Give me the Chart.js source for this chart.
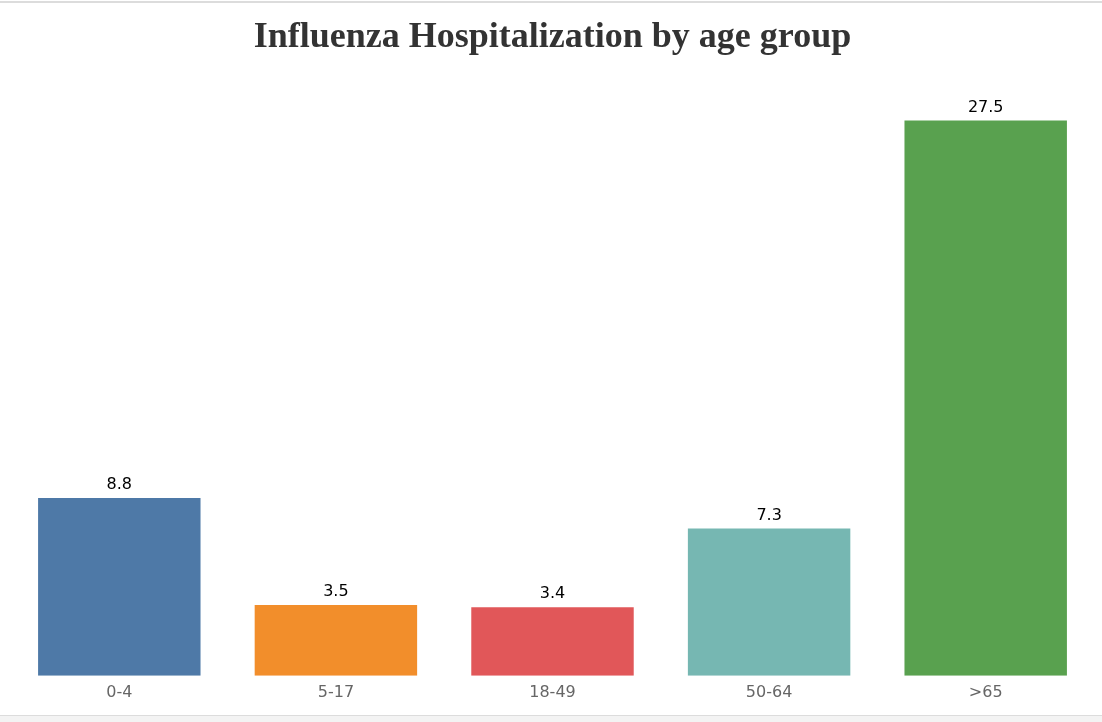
<!DOCTYPE html>
<html>
<head>
<meta charset="utf-8">
<script src="https://cdn.jsdelivr.net/npm/chart.js@4.4.0/dist/chart.umd.min.js"></script>
<style>
  html, body { margin: 0; padding: 0; background: #fff; }
  #wrap { position: relative; width: 1102px; height: 722px; overflow: hidden; }
  #topline { position: absolute; left: 0; top: 1px; width: 1102px; height: 2px; background: #dcdcdc; }
  #bottom { position: absolute; left: 0; top: 715px; width: 1102px; height: 7px; background: #f3f3f3; border-top: 1px solid #dcdcdc; }
  #box { position: absolute; left: 0; top: 0; width: 1102px; height: 715px; }
</style>
</head>
<body>
<div id="wrap">
  <div id="topline"></div>
  <div id="box"><canvas id="chart"></canvas></div>
  <div id="bottom"></div>
</div>
<script>
// Dados do gr치fico
const grupos = ['0-4', '5-17', '18-49', '50-64', '>65'];
const taxas = [8.8, 3.5, 3.4, 7.3, 27.5];
const cores = ['#4e79a7', '#f28e2b', '#e15759', '#76b7b2', '#59a14f'];

// Plugin simples para escrever o valor acima de cada barra
const rotulosValor = {
    id: 'rotulosValor',
    afterDatasetsDraw(chart) {
        const ctx = chart.ctx;
        const meta = chart.getDatasetMeta(0);
        ctx.save();
        ctx.font = '16px "DejaVu Sans", Verdana, sans-serif';
        ctx.fillStyle = '#000';
        ctx.textAlign = 'center';
        ctx.textBaseline = 'bottom';
        meta.data.forEach((bar, i) => {
            ctx.fillText(taxas[i].toFixed(1), bar.x, bar.y - 5);
        });
        ctx.restore();
    }
};

new Chart(document.getElementById('chart'), {
    type: 'bar',
    data: {
        labels: grupos,
        datasets: [{
            data: taxas,
            backgroundColor: cores,
            borderWidth: 0,
            categoryPercentage: 0.75,
            barPercentage: 1.0
        }]
    },
    options: {
        responsive: true,
        maintainAspectRatio: false,
        animation: false,
        layout: {
            padding: { left: 11, right: 8, bottom: 6, top: 0 }
        },
        plugins: {
            legend: { display: false },
            tooltip: { enabled: false },
            title: {
                display: true,
                text: 'Influenza Hospitalization by age group',
                color: '#333',
                font: { family: '"Liberation Serif", "Times New Roman", serif', size: 36, weight: 'bold', lineHeight: 1.2 },
                padding: { top: 16, bottom: 31 }
            }
        },
        scales: {
            x: {
                grid: { display: false, drawTicks: false },
                border: { display: false },
                ticks: {
                    color: '#666',
                    font: { family: '"DejaVu Sans", Tahoma, sans-serif', size: 16 },
                    padding: 7
                }
            },
            y: {
                display: false,
                min: 0,
                max: 29
            }
        }
    },
    plugins: [rotulosValor]
});
</script>
</body>
</html>
